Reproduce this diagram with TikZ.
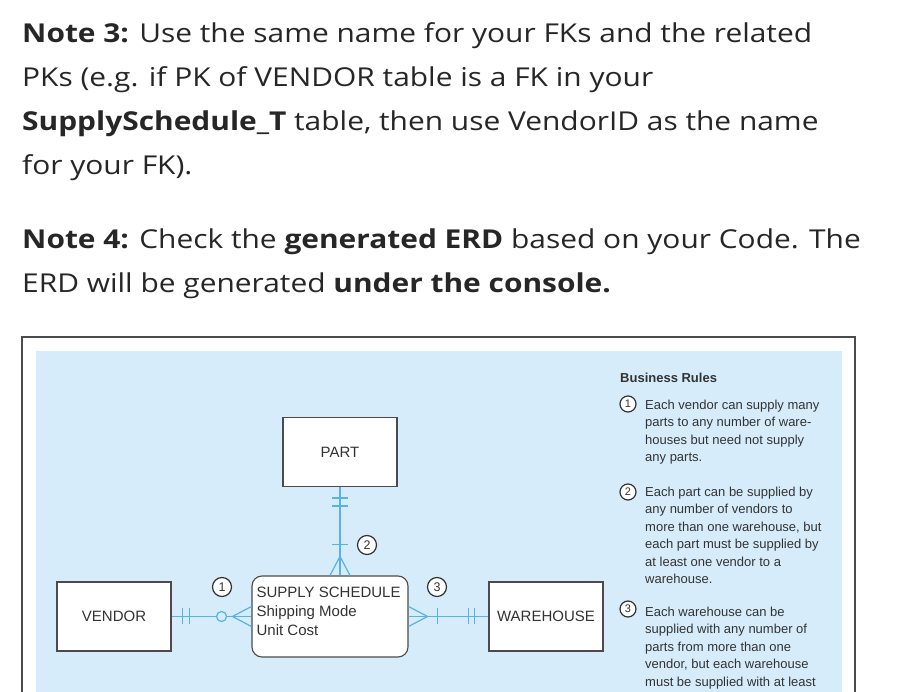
\documentclass[tikz,border=0pt]{standalone}
\usepackage{fontspec}
\setmainfont{Open Sans}
\newfontfamily\notefont[FakeStretch=1.15]{Open Sans}
\newfontfamily\diagfont{Liberation Sans}
\usetikzlibrary{positioning, calc}
\definecolor{relblue}{RGB}{88,178,230}
\definecolor{bgblue}{RGB}{214,236,250}
\definecolor{inkgray}{RGB}{51,51,51}
\definecolor{framegray}{RGB}{75,75,75}

\begin{document}
\begin{tikzpicture}[x=1pt, y=-1pt,
  note/.style={anchor=north west, inner sep=0pt, align=left, text=black!85, font=\notefont\fontsize{26}{44}\selectfont},
  entity/.style={rectangle, draw=framegray, line width=1.1pt, fill=white, minimum width=114pt, minimum height=69pt, inner sep=0pt, text=inkgray, font=\diagfont\fontsize{15}{19}\selectfont},
  assoc/.style={rectangle, rounded corners=10pt, draw=framegray, line width=1.1pt, fill=white, minimum width=156pt, minimum height=81pt, inner sep=0pt},
  attr/.style={anchor=north west, inner sep=0pt, align=left, text=inkgray, font=\diagfont\fontsize{15}{19}\selectfont},
  rel/.style={draw=relblue, line width=1.2pt},
  zero/.style={circle, draw=relblue, line width=1.2pt, fill=bgblue, minimum size=10pt, inner sep=0pt},
  num/.style={circle, draw=inkgray, line width=1.2pt, fill=white, minimum size=19pt, inner sep=0pt, text=inkgray, font=\diagfont\fontsize{12.5}{12.5}\selectfont},
  smallnum/.style={num, minimum size=16pt, font=\diagfont\fontsize{11}{11}\selectfont},
  rulehead/.style={anchor=north west, inner sep=0pt, text=inkgray, font=\diagfont\bfseries\fontsize{13}{17.5}\selectfont},
  rule/.style={anchor=north west, inner sep=0pt, align=left, text=inkgray, font=\diagfont\fontsize{13}{17.5}\selectfont}
]
  \useasboundingbox (0,0) rectangle (906,692);
  \clip (0,0) rectangle (906,692);

  % Notes
  \node[note] (note3) at (22,22) {\textbf{Note 3:} Use the same name for your FKs and the related\\PKs (e.g. if PK of VENDOR table is a FK in your\\\textbf{SupplySchedule\_T} table, then use VendorID as the name\\for your FK).};
  \node[note] (note4) at (22,229) {\textbf{Note 4:} Check the \textbf{generated ERD} based on your Code. The\\ERD will be generated \textbf{under the console.}};

  % Frame
  \draw[framegray, line width=1.4pt, fill=white] (22,337) rectangle (855,720);
  \fill[bgblue] (36,351) rectangle (842,720);

  % Entities
  \node[entity] (part) at (340,452) {PART};
  \node[entity] (vendor) at (114,616.5) {VENDOR};
  \node[entity] (warehouse) at (546,616.5) {WAREHOUSE};
  \node[assoc] (ss) at (330,616.5) {};
  \node[attr] (sslabel) at ($(ss.north west)+(5,11)$) {SUPPLY SCHEDULE\\Shipping Mode\\Unit Cost};

  % Relationships
  \coordinate (ptop) at (part |- ss.north);
  \draw[rel] (vendor) -- (ss);
  \draw[rel] (ss) -- (warehouse);
  \draw[rel] (part) -- (ptop);

  % vendor side
  \foreach \dx in {11,18} \draw[rel] ($(vendor.east)+(\dx,-8)$) -- ++(0,16);
  \node[zero] (opt1) at ($(vendor.east)+(50,0)$) {};
  \coordinate (cf1) at ($(ss.west)+(-19,0)$);
  \draw[rel] ($(ss.west)+(0,-10)$) -- (cf1) -- ($(ss.west)+(0,10)$);

  % warehouse side
  \coordinate (cf3) at ($(ss.east)+(19,0)$);
  \draw[rel] ($(ss.east)+(0,-10)$) -- (cf3) -- ($(ss.east)+(0,10)$);
  \draw[rel] ($(ss.east)+(29,-8)$) -- ++(0,16);
  \foreach \dx in {-20,-14} \draw[rel] ($(warehouse.west)+(\dx,-8)$) -- ++(0,16);

  % part side
  \foreach \dy in {11,19} \draw[rel] ($(part.south)+(-8,\dy)$) -- ++(16,0);
  \draw[rel] ($(ptop)+(-8,-31)$) -- ++(16,0);
  \coordinate (cf2) at ($(ptop)+(0,-19)$);
  \draw[rel] ($(ptop)+(-10,0)$) -- (cf2) -- ($(ptop)+(10,0)$);

  % Rule numbers
  \node[num] (n1) at (222,587) {1};
  \node[num] (n2) at (367,545) {2};
  \node[num] (n3) at (437,587) {3};

  % Business rules
  \node[rulehead] (brhead) at (620,373) {Business Rules};
  \node[smallnum] (b1) at (628,404) {1};
  \node[smallnum] (b2) at (628,492) {2};
  \node[smallnum] (b3) at (628,609) {3};
  \node[rule] (rule1) at (645,399.5) {Each vendor can supply many\\parts to any number of ware-\\houses but need not supply\\any parts.};
  \node[rule] (rule2) at (645,486.5) {Each part can be supplied by\\any number of vendors to\\more than one warehouse, but\\each part must be supplied by\\at least one vendor to a\\warehouse.};
  \node[rule] (rule3) at (645,606.5) {Each warehouse can be\\supplied with any number of\\parts from more than one\\vendor, but each warehouse\\must be supplied with at least};
\end{tikzpicture}
\end{document}
